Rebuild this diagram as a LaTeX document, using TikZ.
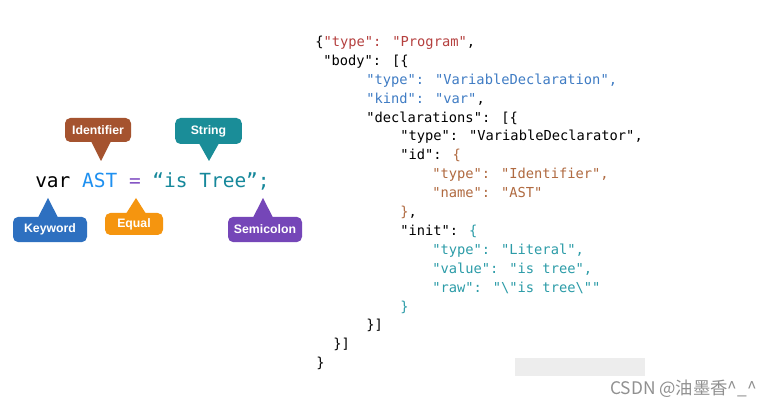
\documentclass[tikz,border=0pt]{standalone}
\usepackage{fontspec}
\newfontfamily\codefont{DejaVu Sans Mono}
\newfontfamily\lblfont{Liberation Sans}
\newfontfamily\cjkfont{Noto Sans CJK SC}
\usetikzlibrary{calc}

\definecolor{progred}{HTML}{B5403F}
\definecolor{declblue}{HTML}{3F7CC4}
\definecolor{idbrown}{HTML}{B06A40}
\definecolor{initteal}{HTML}{2C9CA8}
\definecolor{astblue}{HTML}{1E90F0}
\definecolor{eqpurple}{HTML}{8453C4}
\definecolor{strteal}{HTML}{16889B}
\definecolor{tagbrown}{HTML}{A5532F}
\definecolor{tagteal}{HTML}{1A8D98}
\definecolor{tagblue}{HTML}{2E70C0}
\definecolor{tagorange}{HTML}{F5950F}
\definecolor{tagpurple}{HTML}{7546B8}
\definecolor{markgray}{HTML}{909090}

\begin{document}
\begin{tikzpicture}[x=0.75pt, y=0.75pt, line join=round,
    code/.style={anchor=base west, inner sep=0pt,
      font=\codefont\fontsize{10.3}{12}\selectfont},
    tag/.style={fill=#1, text=white, rounded corners=4pt, inner sep=0pt,
      font=\lblfont\bfseries\fontsize{9.2}{10}\selectfont}]
  \fill[white] (0,0) rectangle (773,406);
  \useasboundingbox (0,0) rectangle (773,406);

  % the statement and its token tags
  \node[anchor=base west, inner sep=0pt,
    font=\codefont\fontsize{14.6}{17}\selectfont] (stmt) at (35,218)
    {var \textcolor{astblue}{AST} \textcolor{eqpurple}{=} \textcolor{strteal}{“is Tree”;}};

  \node[tag=tagbrown, minimum width=49.5pt, minimum height=18pt] (ident) at (98,276) {Identifier};
  \node[tag=tagteal, minimum width=50pt, minimum height=19.5pt] (string) at (208.5,275) {String};
  \node[tag=tagblue, minimum width=55.5pt, minimum height=19pt] (keyword) at (50,176.5) {Keyword};
  \node[tag=tagorange, minimum width=43.5pt, minimum height=16.5pt] (equal) at (134,182) {Equal};
  \node[tag=tagpurple, minimum width=55.5pt, minimum height=19pt] (semi) at (265,176.5) {Semicolon};

  \coordinate (identtip) at (101,245);
  \coordinate (stringtip) at (209,245);
  \coordinate (keywordtip) at (48,208);
  \coordinate (equaltip) at (136,208);
  \coordinate (semitip) at (263,208);

  \fill[tagbrown] ($(ident.south -| identtip)+(-10,1)$) -- (identtip) -- ($(ident.south -| identtip)+(10,1)$) -- cycle;
  \fill[tagteal] ($(string.south -| stringtip)+(-10,1)$) -- (stringtip) -- ($(string.south -| stringtip)+(10,1)$) -- cycle;
  \fill[tagblue] ($(keyword.north -| keywordtip)+(-10,-1)$) -- (keywordtip) -- ($(keyword.north -| keywordtip)+(10,-1)$) -- cycle;
  \fill[tagorange] ($(equal.north -| equaltip)+(-10,-1)$) -- (equaltip) -- ($(equal.north -| equaltip)+(10,-1)$) -- cycle;
  \fill[tagpurple] ($(semi.north -| semitip)+(-10,-1)$) -- (semitip) -- ($(semi.north -| semitip)+(10,-1)$) -- cycle;

  % the AST as JSON
  \node[code] (l1) at (315,359.5) {\{\textcolor{progred}{"type": "Program"},};
  \node[code] (l2) at (323,340.6) {"body": [\{};
  \node[code, text=declblue] (l3) at (366,321.7) {"type": "VariableDeclaration",};
  \node[code] (l4) at (366,302.8) {\textcolor{declblue}{"kind": "var"},};
  \node[code] (l5) at (366,283.9) {"declarations": [\{};
  \node[code] (l6) at (400,265.0) {"type": "VariableDeclarator",};
  \node[code] (l7) at (400,246.1) {"id": \textcolor{idbrown}{\{}};
  \node[code, text=idbrown] (l8) at (432,227.2) {"type": "Identifier",};
  \node[code, text=idbrown] (l9) at (432,208.3) {"name": "AST"};
  \node[code] (l10) at (400,189.4) {\textcolor{idbrown}{\}},};
  \node[code] (l11) at (400,170.5) {"init": \textcolor{initteal}{\{}};
  \node[code, text=initteal] (l12) at (432,151.6) {"type": "Literal",};
  \node[code, text=initteal] (l13) at (432,132.7) {"value": "is tree",};
  \node[code, text=initteal] (l14) at (432,113.8) {"raw": "\textbackslash"is tree\textbackslash""};
  \node[code, text=initteal] (l15) at (400,94.9) {\}};
  \node[code] (l16) at (366,76.0) {\}]};
  \node[code] (l17) at (333,57.1) {\}]};
  \node[code] (l18) at (316,38.2) {\}};

  % watermark
  \fill[black!7] (515,30) rectangle (645,48);
  \node[anchor=base west, inner sep=0pt, text=markgray,
    font=\cjkfont\fontsize{13}{15}\selectfont] (mark) at (610,11.5) {CSDN @油墨香\^{}\_\^{}};
\end{tikzpicture}
\end{document}
